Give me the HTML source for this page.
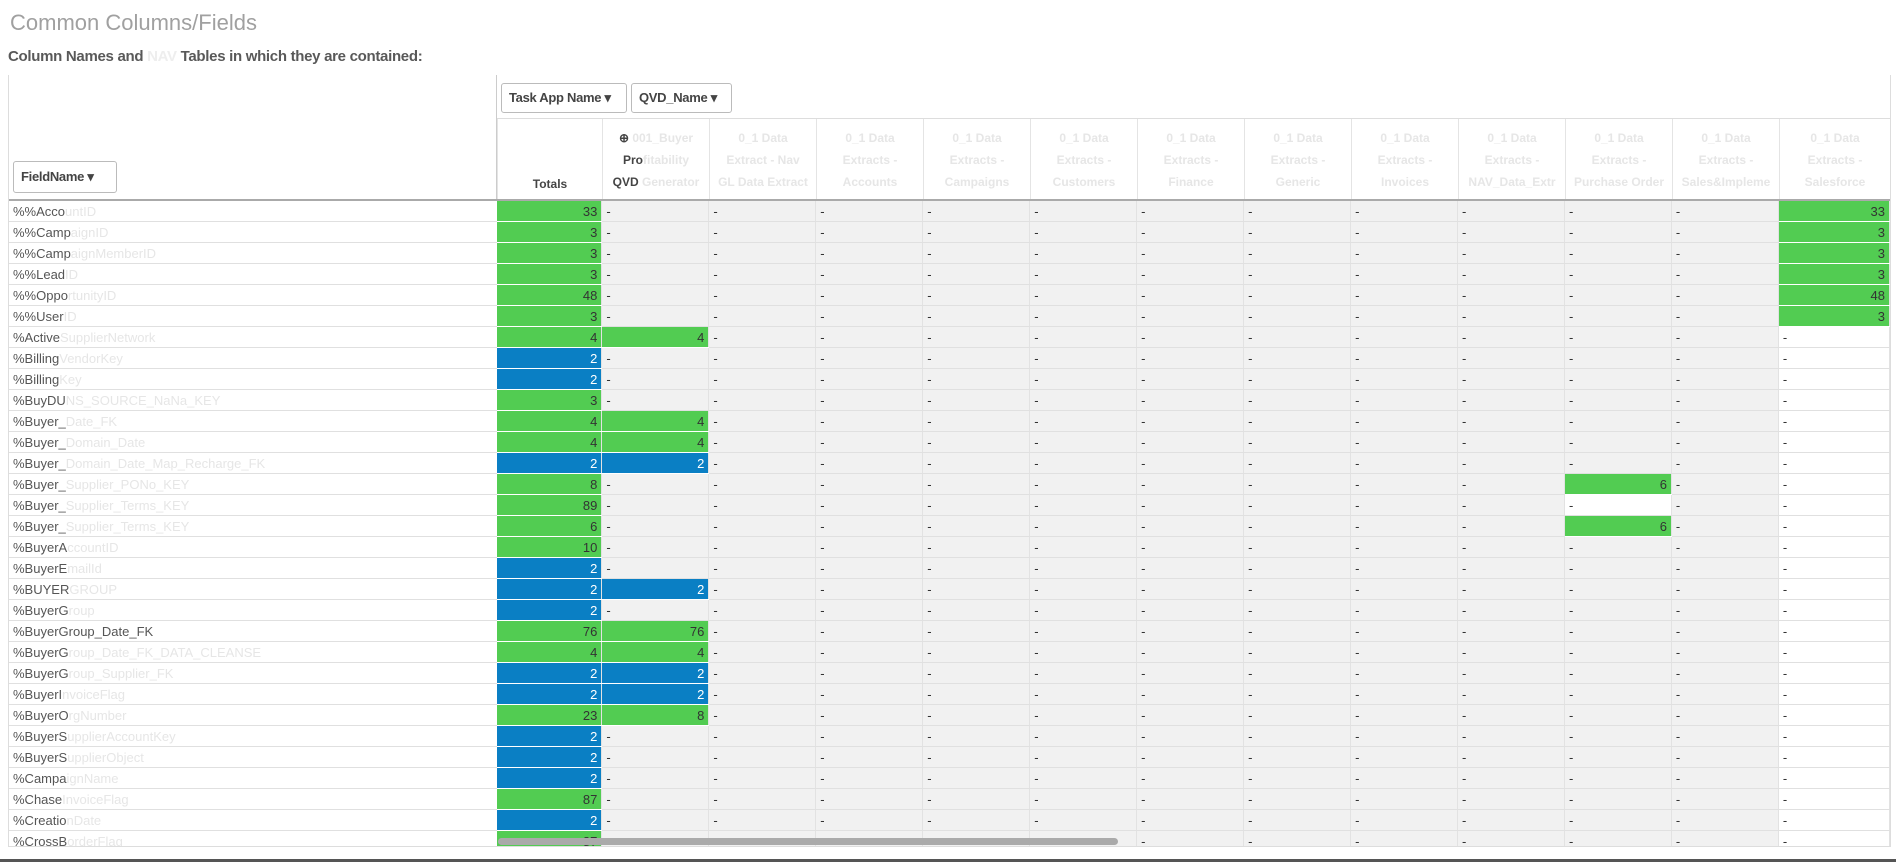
<!DOCTYPE html>
<html><head><meta charset="utf-8"><style>
body{margin:0;width:1896px;height:862px;background:#fff;font-family:"Liberation Sans",sans-serif;position:relative;overflow:hidden}
.t{position:absolute;left:10px;top:10px;font-size:22px;color:#a0a0a0}
.s{position:absolute;left:8px;top:48px;font-size:15px;font-weight:bold;color:#595959;letter-spacing:-0.3px}
.box{position:absolute;left:8px;top:75px;width:1881px;height:771px;border:1px solid #ddd;border-top:none;overflow:hidden;background:#fff}
.vl{position:absolute;left:487px;top:0;width:1px;height:125px;background:#ccc}
.dd{position:absolute;top:8px;height:30px;border:1px solid #bbb;border-radius:3px;font-size:13px;font-weight:bold;color:#444;line-height:28px;padding:0 7px;box-sizing:border-box;white-space:nowrap;letter-spacing:-0.3px}
.hl{position:absolute;left:488px;right:0;top:43px;height:1px;background:#ddd}
.hb{position:absolute;left:0;right:0;top:124px;height:2px;background:#aaa}
.hc{position:absolute;top:44px;height:80px;border-left:1px solid #e4e4e4;box-sizing:border-box;text-align:center;font-size:12px;font-weight:bold;color:#e6e6e6;line-height:22px;padding-top:8px;white-space:nowrap;overflow:hidden}
table{position:absolute;left:0;top:126px;border-collapse:collapse;table-layout:fixed;font-size:13px;color:#333}
td{height:20px;padding:0 4px;border-bottom:1px solid #e0e0e0;border-right:1px solid #e2e2e2;background:#f1f1f1;white-space:nowrap;overflow:hidden}
td.n{background:#fff;color:#555;border-right:none}
td.n i{font-style:normal;color:#e6e6e6}
td.g{background:#52cc52;text-align:right;border-bottom:1px solid #fff}
td.b{background:#0a7fc4;color:#fff;text-align:right;border-bottom:1px solid #fff}
td.w{background:#fff}
.sb{position:absolute;left:489px;top:763px;width:620px;height:7px;border-radius:4px;background:#aaa}
.bl{position:absolute;left:0;top:859px;width:1896px;height:3px;background:#555}
</style></head><body>
<div class="t">Common Columns/Fields</div>
<div class="s">Column Names and <span style="color:#eee">NAV</span> Tables in which they are contained:</div>
<div class="box">
<div class="vl"></div>
<div class="dd" style="left:492px;width:126px">Task App Name ▾</div>
<div class="dd" style="left:622px;width:101px">QVD_Name ▾</div>
<div class="dd" style="left:4px;top:86px;width:104px;height:32px;line-height:30px">FieldName ▾</div>
<div class="hl"></div>
<div class="hc" style="left:488px;width:105px;color:#444;padding-top:54px">Totals</div>
<div class="hc" style="left:593px;width:107px"><span style="color:#444">⊕ </span>001_Buyer<br><span style="color:#444">Pro</span>fitability<br><span style="color:#444">QVD</span> Generator</div>
<div class="hc" style="left:700px;width:107px">0_1 Data<br>Extract - Nav<br>GL Data Extract</div>
<div class="hc" style="left:807px;width:107px">0_1 Data<br>Extracts -<br>Accounts</div>
<div class="hc" style="left:914px;width:107px">0_1 Data<br>Extracts -<br>Campaigns</div>
<div class="hc" style="left:1021px;width:107px">0_1 Data<br>Extracts -<br>Customers</div>
<div class="hc" style="left:1128px;width:107px">0_1 Data<br>Extracts -<br>Finance</div>
<div class="hc" style="left:1235px;width:107px">0_1 Data<br>Extracts -<br>Generic</div>
<div class="hc" style="left:1342px;width:107px">0_1 Data<br>Extracts -<br>Invoices</div>
<div class="hc" style="left:1449px;width:107px">0_1 Data<br>Extracts -<br>NAV_Data_Extr</div>
<div class="hc" style="left:1556px;width:107px">0_1 Data<br>Extracts -<br>Purchase Order</div>
<div class="hc" style="left:1663px;width:107px">0_1 Data<br>Extracts -<br>Sales&amp;Impleme</div>
<div class="hc" style="left:1770px;width:111px">0_1 Data<br>Extracts -<br>Salesforce</div>
<div class="hb"></div>
<table>
<colgroup><col style="width:488px"><col style="width:105px"><col span="11" style="width:107px"><col style="width:111px"></colgroup>
<tr><td class="n">%%Acco<i>untID</i></td><td class="g">33</td><td>-</td><td>-</td><td>-</td><td>-</td><td>-</td><td>-</td><td>-</td><td>-</td><td>-</td><td>-</td><td>-</td><td class="g">33</td></tr>
<tr><td class="n">%%Camp<i>aignID</i></td><td class="g">3</td><td>-</td><td>-</td><td>-</td><td>-</td><td>-</td><td>-</td><td>-</td><td>-</td><td>-</td><td>-</td><td>-</td><td class="g">3</td></tr>
<tr><td class="n">%%Camp<i>aignMemberID</i></td><td class="g">3</td><td>-</td><td>-</td><td>-</td><td>-</td><td>-</td><td>-</td><td>-</td><td>-</td><td>-</td><td>-</td><td>-</td><td class="g">3</td></tr>
<tr><td class="n">%%Lead<i>ID</i></td><td class="g">3</td><td>-</td><td>-</td><td>-</td><td>-</td><td>-</td><td>-</td><td>-</td><td>-</td><td>-</td><td>-</td><td>-</td><td class="g">3</td></tr>
<tr><td class="n">%%Oppo<i>rtunityID</i></td><td class="g">48</td><td>-</td><td>-</td><td>-</td><td>-</td><td>-</td><td>-</td><td>-</td><td>-</td><td>-</td><td>-</td><td>-</td><td class="g">48</td></tr>
<tr><td class="n">%%User<i>ID</i></td><td class="g">3</td><td>-</td><td>-</td><td>-</td><td>-</td><td>-</td><td>-</td><td>-</td><td>-</td><td>-</td><td>-</td><td>-</td><td class="g">3</td></tr>
<tr><td class="n">%Active<i>SupplierNetwork</i></td><td class="g">4</td><td class="g">4</td><td>-</td><td>-</td><td>-</td><td>-</td><td>-</td><td>-</td><td>-</td><td>-</td><td>-</td><td>-</td><td class="w">-</td></tr>
<tr><td class="n">%Billing<i>VendorKey</i></td><td class="b">2</td><td>-</td><td>-</td><td>-</td><td>-</td><td>-</td><td>-</td><td>-</td><td>-</td><td>-</td><td>-</td><td>-</td><td class="w">-</td></tr>
<tr><td class="n">%Billing<i>Key</i></td><td class="b">2</td><td>-</td><td>-</td><td>-</td><td>-</td><td>-</td><td>-</td><td>-</td><td>-</td><td>-</td><td>-</td><td>-</td><td class="w">-</td></tr>
<tr><td class="n">%BuyDU<i>NS_SOURCE_NaNa_KEY</i></td><td class="g">3</td><td>-</td><td>-</td><td>-</td><td>-</td><td>-</td><td>-</td><td>-</td><td>-</td><td>-</td><td>-</td><td>-</td><td class="w">-</td></tr>
<tr><td class="n">%Buyer_<i>Date_FK</i></td><td class="g">4</td><td class="g">4</td><td>-</td><td>-</td><td>-</td><td>-</td><td>-</td><td>-</td><td>-</td><td>-</td><td>-</td><td>-</td><td class="w">-</td></tr>
<tr><td class="n">%Buyer_<i>Domain_Date</i></td><td class="g">4</td><td class="g">4</td><td>-</td><td>-</td><td>-</td><td>-</td><td>-</td><td>-</td><td>-</td><td>-</td><td>-</td><td>-</td><td class="w">-</td></tr>
<tr><td class="n">%Buyer_<i>Domain_Date_Map_Recharge_FK</i></td><td class="b">2</td><td class="b">2</td><td>-</td><td>-</td><td>-</td><td>-</td><td>-</td><td>-</td><td>-</td><td>-</td><td>-</td><td>-</td><td class="w">-</td></tr>
<tr><td class="n">%Buyer_<i>Supplier_PONo_KEY</i></td><td class="g">8</td><td>-</td><td>-</td><td>-</td><td>-</td><td>-</td><td>-</td><td>-</td><td>-</td><td>-</td><td class="g">6</td><td>-</td><td class="w">-</td></tr>
<tr><td class="n">%Buyer_<i>Supplier_Terms_KEY</i></td><td class="g">89</td><td>-</td><td>-</td><td>-</td><td>-</td><td>-</td><td>-</td><td>-</td><td>-</td><td>-</td><td class="w">-</td><td>-</td><td class="w">-</td></tr>
<tr><td class="n">%Buyer_<i>Supplier_Terms_KEY</i></td><td class="g">6</td><td>-</td><td>-</td><td>-</td><td>-</td><td>-</td><td>-</td><td>-</td><td>-</td><td>-</td><td class="g">6</td><td>-</td><td class="w">-</td></tr>
<tr><td class="n">%BuyerA<i>ccountID</i></td><td class="g">10</td><td>-</td><td>-</td><td>-</td><td>-</td><td>-</td><td>-</td><td>-</td><td>-</td><td>-</td><td>-</td><td>-</td><td class="w">-</td></tr>
<tr><td class="n">%BuyerE<i>mailId</i></td><td class="b">2</td><td>-</td><td>-</td><td>-</td><td>-</td><td>-</td><td>-</td><td>-</td><td>-</td><td>-</td><td>-</td><td>-</td><td class="w">-</td></tr>
<tr><td class="n">%BUYER<i>GROUP</i></td><td class="b">2</td><td class="b">2</td><td>-</td><td>-</td><td>-</td><td>-</td><td>-</td><td>-</td><td>-</td><td>-</td><td>-</td><td>-</td><td class="w">-</td></tr>
<tr><td class="n">%BuyerG<i>roup</i></td><td class="b">2</td><td>-</td><td>-</td><td>-</td><td>-</td><td>-</td><td>-</td><td>-</td><td>-</td><td>-</td><td>-</td><td>-</td><td class="w">-</td></tr>
<tr><td class="n">%BuyerGroup_Date_FK</td><td class="g">76</td><td class="g">76</td><td>-</td><td>-</td><td>-</td><td>-</td><td>-</td><td>-</td><td>-</td><td>-</td><td>-</td><td>-</td><td class="w">-</td></tr>
<tr><td class="n">%BuyerG<i>roup_Date_FK_DATA_CLEANSE</i></td><td class="g">4</td><td class="g">4</td><td>-</td><td>-</td><td>-</td><td>-</td><td>-</td><td>-</td><td>-</td><td>-</td><td>-</td><td>-</td><td class="w">-</td></tr>
<tr><td class="n">%BuyerG<i>roup_Supplier_FK</i></td><td class="b">2</td><td class="b">2</td><td>-</td><td>-</td><td>-</td><td>-</td><td>-</td><td>-</td><td>-</td><td>-</td><td>-</td><td>-</td><td class="w">-</td></tr>
<tr><td class="n">%BuyerI<i>nvoiceFlag</i></td><td class="b">2</td><td class="b">2</td><td>-</td><td>-</td><td>-</td><td>-</td><td>-</td><td>-</td><td>-</td><td>-</td><td>-</td><td>-</td><td class="w">-</td></tr>
<tr><td class="n">%BuyerO<i>rgNumber</i></td><td class="g">23</td><td class="g">8</td><td>-</td><td>-</td><td>-</td><td>-</td><td>-</td><td>-</td><td>-</td><td>-</td><td>-</td><td>-</td><td class="w">-</td></tr>
<tr><td class="n">%BuyerS<i>upplierAccountKey</i></td><td class="b">2</td><td>-</td><td>-</td><td>-</td><td>-</td><td>-</td><td>-</td><td>-</td><td>-</td><td>-</td><td>-</td><td>-</td><td class="w">-</td></tr>
<tr><td class="n">%BuyerS<i>upplierObject</i></td><td class="b">2</td><td>-</td><td>-</td><td>-</td><td>-</td><td>-</td><td>-</td><td>-</td><td>-</td><td>-</td><td>-</td><td>-</td><td class="w">-</td></tr>
<tr><td class="n">%Campa<i>ignName</i></td><td class="b">2</td><td>-</td><td>-</td><td>-</td><td>-</td><td>-</td><td>-</td><td>-</td><td>-</td><td>-</td><td>-</td><td>-</td><td class="w">-</td></tr>
<tr><td class="n">%Chase<i>InvoiceFlag</i></td><td class="g">87</td><td>-</td><td>-</td><td>-</td><td>-</td><td>-</td><td>-</td><td>-</td><td>-</td><td>-</td><td>-</td><td>-</td><td class="w">-</td></tr>
<tr><td class="n">%Creatio<i>nDate</i></td><td class="b">2</td><td>-</td><td>-</td><td>-</td><td>-</td><td>-</td><td>-</td><td>-</td><td>-</td><td>-</td><td>-</td><td>-</td><td class="w">-</td></tr>
<tr><td class="n">%CrossB<i>orderFlag</i></td><td class="g">87</td><td>-</td><td>-</td><td>-</td><td>-</td><td>-</td><td>-</td><td>-</td><td>-</td><td>-</td><td>-</td><td>-</td><td class="w">-</td></tr>
</table>
<div class="sb"></div>
</div>
<div class="bl"></div>
</body></html>
